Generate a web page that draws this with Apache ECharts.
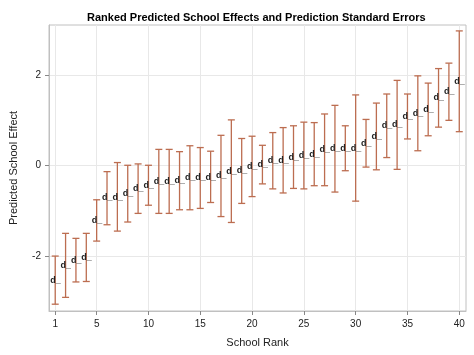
<!DOCTYPE html>
<html>
<head>
<meta charset="utf-8">
<script src="https://cdn.jsdelivr.net/npm/echarts@6/dist/echarts.min.js"></script>
<style>
html,body{margin:0;padding:0;background:#fff;}
#chart{width:474px;height:355px;}
</style>
</head>
<body>
<div id="chart"></div>
<script>
const ranks = [1,2,3,4,5,6,7,8,9,10,11,12,13,14,15,16,17,18,19,20,21,22,23,24,25,26,27,28,29,30,31,32,33,34,35,36,37,38,39,40];
const estimates = [-2.52,-2.20,-2.08,-2.02,-1.20,-0.71,-0.69,-0.62,-0.50,-0.43,-0.35,-0.35,-0.33,-0.27,-0.27,-0.25,-0.22,-0.12,-0.11,-0.01,0.03,0.11,0.12,0.19,0.22,0.25,0.35,0.38,0.38,0.39,0.50,0.65,0.88,0.90,1.08,1.16,1.24,1.50,1.63,1.86];
const lower = [-3.05,-2.90,-2.56,-2.55,-1.66,-1.30,-1.44,-1.24,-1.05,-0.87,-1.05,-1.05,-0.97,-0.97,-0.94,-0.81,-1.12,-1.25,-0.83,-0.68,-0.40,-0.51,-0.60,-0.50,-0.51,-0.44,-0.44,-0.58,-0.11,-0.78,-0.03,-0.09,0.18,-0.08,0.59,0.33,0.66,0.85,1.00,0.75];
const upper = [-1.99,-1.49,-1.60,-1.49,-0.75,-0.13,0.07,0.01,0.04,0.01,0.36,0.36,0.31,0.44,0.40,0.32,0.67,1.01,0.60,0.65,0.45,0.73,0.84,0.88,0.96,0.95,1.14,1.33,0.88,1.56,1.02,1.38,1.58,1.88,1.58,1.98,1.82,2.14,2.26,2.97];
const xTicks = [1,5,10,15,20,25,30,35,40];
const yTicks = [-2,0,2];

const barColor = '#bc6d50';
const data = ranks.map((r,i)=>[r, estimates[i], lower[i], upper[i]]);

const chart = echarts.init(document.getElementById('chart'), null, {renderer:'canvas'});
chart.setOption({
  backgroundColor:'#fff',
  animation:false,
  title:{
    text:'Ranked Predicted School Effects and Prediction Standard Errors',
    left:82, top:7,
    textStyle:{fontFamily:'Liberation Sans, Arial, sans-serif', fontSize:11, fontWeight:'bold', color:'#000'}
  },
  grid:{left:46, right:8, top:25, bottom:44, show:true, borderColor:'#c0c0c0', borderWidth:1},
  xAxis:{
    type:'value', min:0.4, max:40.65,
    name:'School Rank', nameLocation:'middle', nameGap:26,
    nameTextStyle:{fontFamily:'Liberation Sans, Arial, sans-serif', fontSize:11, color:'#222'},
    axisLine:{show:true, onZero:false, lineStyle:{color:'#c0c0c0'}},
    axisTick:{show:true, customValues:xTicks, length:4, lineStyle:{color:'#888'}},
    axisLabel:{customValues:xTicks, fontFamily:'Liberation Sans, Arial, sans-serif', fontSize:10, color:'#222', margin:8},
    splitLine:{show:true, lineStyle:{color:'#e8e8e8', width:1}}
  },
  yAxis:{
    type:'value', min:-3.2, max:3.1,
    name:'Predicted School Effect', nameLocation:'middle', nameGap:30,
    nameTextStyle:{fontFamily:'Liberation Sans, Arial, sans-serif', fontSize:11, color:'#222'},
    axisLine:{show:true, onZero:false, lineStyle:{color:'#c0c0c0'}},
    axisTick:{show:true, customValues:yTicks, length:4, lineStyle:{color:'#888'}},
    axisLabel:{customValues:yTicks, fontFamily:'Liberation Sans, Arial, sans-serif', fontSize:10, color:'#222', margin:8},
    splitLine:{show:true, lineStyle:{color:'#e8e8e8', width:1}}
  },
  series:[{
    type:'custom',
    data:data,
    encode:{x:0, y:[1,2,3]},
    renderItem:function(params, api){
      const x = api.value(0);
      const m = api.coord([x, api.value(1)]);
      const lo = api.coord([x, api.value(2)]);
      const hi = api.coord([x, api.value(3)]);
      const cap = 3.5;
      const st = {stroke:barColor, lineWidth:1.3};
      return {
        type:'group',
        children:[
          {type:'line', shape:{x1:lo[0], y1:lo[1], x2:hi[0], y2:hi[1]}, style:st},
          {type:'line', shape:{x1:lo[0]-cap, y1:lo[1], x2:lo[0]+cap, y2:lo[1]}, style:st},
          {type:'line', shape:{x1:hi[0]-cap, y1:hi[1], x2:hi[0]+cap, y2:hi[1]}, style:st},
          {type:'text', x:m[0]-5, y:m[1], style:{text:'d_', fill:'#222', font:'bold 9px Liberation Sans, Arial, sans-serif', textAlign:'left', textVerticalAlign:'middle'}}
        ]
      };
    }
  }]
});
</script>
</body>
</html>
